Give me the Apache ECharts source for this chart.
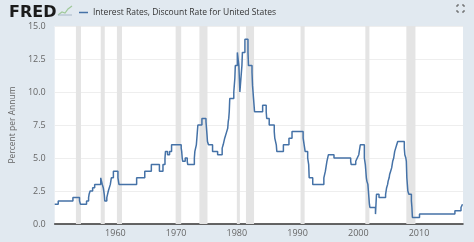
<!DOCTYPE html>
<html>
<head>
<meta charset="utf-8">
<script src="https://cdn.jsdelivr.net/npm/echarts@6/dist/echarts.min.js"></script>
<style>
  html, body { margin: 0; padding: 0; background: #e1e9f0; }
  #chart { width: 474px; height: 242px; }
</style>
</head>
<body>
<div id="chart"></div>
<script>
  // discount rate, change points (month, percent per annum)
  const rateChanges = [
    ['1950-01', 1.5], ['1950-08', 1.75], ['1953-01', 2.0], ['1954-02', 1.75], ['1954-04', 1.5],
    ['1955-04', 1.75], ['1955-08', 2.0], ['1955-09', 2.25], ['1955-11', 2.5], ['1956-04', 2.75],
    ['1956-08', 3.0], ['1957-08', 3.5], ['1957-11', 3.0], ['1958-01', 2.75], ['1958-03', 2.25],
    ['1958-04', 1.75], ['1958-08', 2.0], ['1958-11', 2.5], ['1959-03', 3.0], ['1959-05', 3.5],
    ['1959-09', 4.0], ['1960-06', 3.5], ['1960-08', 3.0], ['1963-07', 3.5], ['1964-11', 4.0],
    ['1965-12', 4.5], ['1967-04', 4.0], ['1967-11', 4.5], ['1968-03', 5.0], ['1968-04', 5.5],
    ['1968-08', 5.25], ['1968-12', 5.5], ['1969-04', 6.0], ['1970-11', 5.75], ['1970-12', 5.5],
    ['1971-01', 5.0], ['1971-02', 4.75], ['1971-07', 5.0], ['1971-11', 4.75], ['1971-12', 4.5],
    ['1973-01', 5.0], ['1973-02', 5.5], ['1973-05', 6.0], ['1973-06', 6.5], ['1973-07', 7.0],
    ['1973-08', 7.5], ['1974-04', 8.0], ['1974-12', 7.75], ['1975-01', 7.25], ['1975-02', 6.75],
    ['1975-03', 6.25], ['1975-05', 6.0], ['1976-01', 5.5], ['1976-11', 5.25], ['1977-08', 5.75],
    ['1977-10', 6.0], ['1978-01', 6.5], ['1978-05', 7.0], ['1978-07', 7.25], ['1978-08', 7.75],
    ['1978-09', 8.0], ['1978-10', 8.5], ['1978-11', 9.5], ['1979-07', 10.0], ['1979-08', 10.5],
    ['1979-09', 11.0], ['1979-10', 12.0], ['1980-02', 13.0], ['1980-05', 12.0], ['1980-06', 11.0],
    ['1980-07', 10.0], ['1980-09', 11.0], ['1980-11', 12.0], ['1980-12', 13.0], ['1981-05', 14.0],
    ['1981-11', 13.0], ['1981-12', 12.0], ['1982-07', 11.5], ['1982-08', 10.5], ['1982-09', 10.0],
    ['1982-10', 9.5], ['1982-11', 9.0], ['1982-12', 8.5], ['1984-04', 9.0], ['1984-11', 8.5],
    ['1984-12', 8.0], ['1985-05', 7.5], ['1986-03', 7.0], ['1986-04', 6.5], ['1986-07', 6.0],
    ['1986-08', 5.5], ['1987-09', 6.0], ['1988-08', 6.5], ['1989-02', 7.0], ['1990-12', 6.5],
    ['1991-02', 6.0], ['1991-04', 5.5], ['1991-09', 5.0], ['1991-11', 4.5], ['1991-12', 3.5],
    ['1992-07', 3.0], ['1994-05', 3.5], ['1994-08', 4.0], ['1994-11', 4.75], ['1995-02', 5.25],
    ['1996-01', 5.0], ['1998-10', 4.75], ['1998-11', 4.5], ['1999-08', 4.75], ['1999-11', 5.0],
    ['2000-02', 5.25], ['2000-03', 5.5], ['2000-05', 6.0], ['2001-01', 5.0], ['2001-03', 4.5],
    ['2001-04', 4.0], ['2001-05', 3.5], ['2001-06', 3.25], ['2001-08', 3.0], ['2001-09', 2.5],
    ['2001-10', 2.0], ['2001-11', 1.5], ['2001-12', 1.25], ['2002-11', 0.75], ['2003-01', 2.25],
    ['2003-06', 2.0], ['2004-07', 2.25], ['2004-08', 2.5], ['2004-09', 2.75], ['2004-11', 3.0],
    ['2004-12', 3.25], ['2005-02', 3.5], ['2005-03', 3.75], ['2005-05', 4.0], ['2005-07', 4.25],
    ['2005-08', 4.5], ['2005-09', 4.75], ['2005-11', 5.0], ['2005-12', 5.25], ['2006-01', 5.5],
    ['2006-03', 5.75], ['2006-05', 6.0], ['2006-07', 6.25], ['2007-08', 5.75], ['2007-09', 5.25],
    ['2007-11', 5.0], ['2007-12', 4.75], ['2008-01', 3.5], ['2008-03', 2.5], ['2008-05', 2.25],
    ['2008-10', 1.75], ['2008-11', 1.25], ['2008-12', 0.5], ['2010-02', 0.75], ['2015-12', 1.0],
    ['2016-12', 1.25], ['2017-03', 1.5], ['2017-04', 1.5]
  ];

  // NBER recessions (start, end)
  const recessions = [
    ['1953-07', '1954-05'], ['1957-08', '1958-04'], ['1960-04', '1961-02'],
    ['1969-12', '1970-11'], ['1973-11', '1975-03'], ['1980-01', '1980-07'],
    ['1981-07', '1982-11'], ['1990-07', '1991-03'], ['2001-03', '2001-11'],
    ['2007-12', '2009-06']
  ];

  const yTicks = [0, 2.5, 5, 7.5, 10, 12.5, 15];
  const xLabelYears = [1960, 1970, 1980, 1990, 2000, 2010];
  const seriesName = 'Interest Rates, Discount Rate for United States';

  const chart = echarts.init(document.getElementById('chart'));
  const tenYears = 10 * 365.25 * 24 * 3600 * 1000;

  chart.setOption({
    backgroundColor: '#e1e9f0',
    animation: false,
    textStyle: { fontFamily: 'Open Sans' },
    title: {
      text: 'FRED',
      left: 4,
      top: 0,
      textStyle: { fontFamily: 'DejaVu Sans', fontWeight: 'bold', fontSize: 16, color: '#1b1b1b' }
    },
    legend: {
      left: 74,
      top: 3,
      icon: 'rect',
      itemWidth: 9,
      itemHeight: 1.5,
      itemGap: 4,
      textStyle: { fontSize: 8.5, color: '#333' },
      data: [seriesName]
    },
    graphic: [
      // small logo chart next to FRED
      { type: 'polyline', shape: { points: [[58, 15], [62, 12], [65, 13], [68, 9], [72, 6]] },
        style: { stroke: '#9fc99a', lineWidth: 1.2, fill: null } },
      { type: 'polyline', shape: { points: [[58, 15], [72, 15]] },
        style: { stroke: '#a8b8c8', lineWidth: 1, fill: null } },
      // fullscreen icon
      { type: 'polyline', shape: { points: [[457, 7], [457, 5], [459, 5]] }, style: { stroke: '#555', lineWidth: 1, fill: null } },
      { type: 'polyline', shape: { points: [[462, 5], [464, 5], [464, 7]] }, style: { stroke: '#555', lineWidth: 1, fill: null } },
      { type: 'polyline', shape: { points: [[457, 10], [457, 12], [459, 12]] }, style: { stroke: '#555', lineWidth: 1, fill: null } },
      { type: 'polyline', shape: { points: [[462, 12], [464, 12], [464, 10]] }, style: { stroke: '#555', lineWidth: 1, fill: null } }
    ],
    grid: {
      left: 54,
      right: 11,
      top: 26,
      bottom: 18,
      show: true,
      backgroundColor: '#ffffff',
      borderWidth: 0
    },
    xAxis: {
      type: 'time',
      min: '1950-01-01',
      max: '2017-04-01',
      minInterval: tenYears,
      maxInterval: tenYears,
      axisLine: { lineStyle: { color: '#333', width: 1.5 } },
      axisTick: { show: false },
      splitLine: { show: false },
      axisLabel: {
        color: '#666',
        fontSize: 9,
        margin: 5,
        formatter: v => {
          const y = new Date(v).getFullYear();
          return xLabelYears.indexOf(y) >= 0 ? String(y) : '';
        }
      }
    },
    yAxis: {
      type: 'value',
      min: yTicks[0],
      max: yTicks[yTicks.length - 1],
      interval: 2.5,
      name: 'Percent per Annum',
      nameLocation: 'middle',
      nameGap: 35,
      nameTextStyle: { color: '#666', fontSize: 8.5 },
      axisLine: { show: false },
      axisTick: { show: false },
      axisLabel: {
        color: '#666',
        fontSize: 9,
        margin: 9,
        formatter: v => v.toFixed(1)
      },
      splitLine: { lineStyle: { color: '#eeeeee', width: 1 } }
    },
    series: [{
      name: seriesName,
      type: 'line',
      step: 'end',
      data: rateChanges,
      showSymbol: false,
      color: '#4572a7',
      lineStyle: { width: 1.5, color: '#4572a7' },
      markArea: {
        silent: true,
        itemStyle: { color: '#e4e4e4' },
        data: recessions.map(r => [{ xAxis: r[0] }, { xAxis: r[1] }])
      }
    }]
  });
</script>
</body>
</html>
